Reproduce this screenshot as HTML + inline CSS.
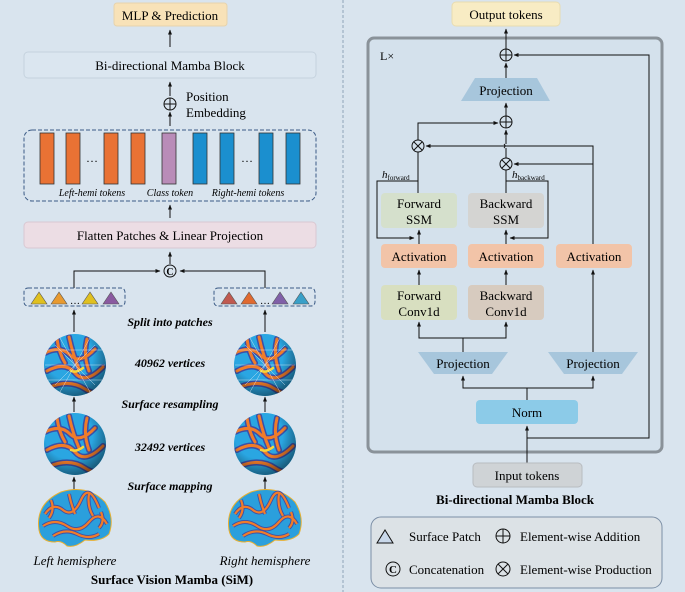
<!DOCTYPE html>
<html><head><meta charset="utf-8"><style>
html,body{margin:0;padding:0;background:#d9e4ee}
svg{display:block;font-family:"Liberation Serif",serif}
</style></head><body>
<svg width="685" height="592" viewBox="0 0 685 592" xmlns="http://www.w3.org/2000/svg">
<defs>
<marker id="a" viewBox="0 0 10 10" refX="9" refY="5" markerWidth="5" markerHeight="5" orient="auto"><path d="M0,1 L10,5 L0,9 Z" fill="#111"/></marker>
<radialGradient id="shade" cx="0.4" cy="0.35" r="0.7"><stop offset="0.55" stop-color="#000" stop-opacity="0"/><stop offset="1" stop-color="#000" stop-opacity="0.5"/></radialGradient>
<clipPath id="cs"><circle cx="0" cy="0" r="31"/></clipPath>
<g id="sph">
 <g clip-path="url(#cs)">
  <rect x="-32" y="-32" width="64" height="64" fill="#2aa6e2"/>
  <g fill="none" stroke-linecap="round">
   <path d="M-30,-12 Q-15,-20 -5,-10 T20,-16 M-28,6 Q-10,-4 0,8 T28,2 M-25,22 Q-5,14 10,24 T30,18 M-6,-28 Q-2,-10 4,4 M12,-26 Q8,-10 14,6 M-18,-26 Q-16,-12 -10,-2" stroke="#3b4fa8" stroke-width="6"/>
   <path d="M-30,-12 Q-15,-20 -5,-10 T20,-16 M-28,6 Q-10,-4 0,8 T28,2 M-25,22 Q-5,14 10,24 T30,18 M-6,-28 Q-2,-10 4,4 M12,-26 Q8,-10 14,6 M-18,-26 Q-16,-12 -10,-2" stroke="#f07c2a" stroke-width="3"/>
   <path d="M-4,6 Q2,8 8,3" stroke="#f6d53a" stroke-width="2.5"/>
  </g>
  <circle r="31" fill="url(#shade)"/>
 </g>
</g>
<g id="brain">
 <path d="M-36,12 Q-40,-14 -14,-26 Q12,-34 30,-16 Q40,0 34,16 Q26,24 10,22 Q0,30 -8,28 Q-14,22 -20,24 Q-34,24 -36,12 Z" fill="#2b9fdc" stroke="#e8b030" stroke-width="1"/>
 <g fill="none" stroke="#3b4fa8" stroke-width="4">
  <path d="M-30,-4 Q-22,-16 -12,-8 T6,-18 T24,-10 M-32,8 Q-20,0 -8,8 T14,4 T32,6 M-22,18 Q-10,10 2,16 T24,16 M-6,-24 Q-4,-14 0,-4 M14,-24 Q12,-12 18,-2 M-24,-18 Q-20,-8 -26,0 M26,-6 Q30,4 24,10"/>
 </g>
 <g fill="none" stroke="#f07c2a" stroke-width="2.2">
  <path d="M-30,-4 Q-22,-16 -12,-8 T6,-18 T24,-10 M-32,8 Q-20,0 -8,8 T14,4 T32,6 M-22,18 Q-10,10 2,16 T24,16 M-6,-24 Q-4,-14 0,-4 M14,-24 Q12,-12 18,-2 M-24,-18 Q-20,-8 -26,0 M26,-6 Q30,4 24,10"/>
 </g>
</g>
</defs>

<line x1="343" y1="0" x2="343" y2="592" stroke="#8ea3b8" stroke-width="1" stroke-dasharray="3,2"/>

<!-- LEFT -->
<rect x="114" y="3" width="113" height="23" rx="3" fill="#f8e2b8" stroke="#e6d3ad"/>
<text x="170" y="20" text-anchor="middle" font-size="13">MLP &amp; Prediction</text>
<line x1="170" y1="47" x2="170" y2="30" stroke="#111" marker-end="url(#a)"/>
<rect x="24" y="52" width="292" height="26" rx="4" fill="#dbe6f0" stroke="#c5d2de"/>
<text x="170" y="70" text-anchor="middle" font-size="13">Bi-directional Mamba Block</text>
<line x1="170" y1="96" x2="170" y2="82" stroke="#111" marker-end="url(#a)"/>
<circle cx="170" cy="104" r="6" fill="none" stroke="#111"/><path d="M164,104H176M170,98V110" stroke="#111"/>
<line x1="170" y1="126" x2="170" y2="112" stroke="#111" marker-end="url(#a)"/>
<text x="186" y="101" font-size="13">Position</text>
<text x="186" y="117" font-size="13">Embedding</text>
<rect x="24" y="130" width="292" height="71" rx="8" fill="none" stroke="#3a5a85" stroke-dasharray="4,2"/>
<g stroke="#333" stroke-width="0.8">
<rect x="40" y="133" width="14" height="51" fill="#e97234"/>
<rect x="66" y="133" width="14" height="51" fill="#e97234"/>
<rect x="104" y="133" width="14" height="51" fill="#e97234"/>
<rect x="131" y="133" width="14" height="51" fill="#e97234"/>
<rect x="162" y="133" width="14" height="51" fill="#b98cb8"/>
<rect x="193" y="133" width="14" height="51" fill="#1b8fcf"/>
<rect x="220" y="133" width="14" height="51" fill="#1b8fcf"/>
<rect x="259" y="133" width="14" height="51" fill="#1b8fcf"/>
<rect x="286" y="133" width="14" height="51" fill="#1b8fcf"/>
</g>
<text x="92" y="162" text-anchor="middle" font-size="12">…</text>
<text x="247" y="162" text-anchor="middle" font-size="12">…</text>
<g font-size="10" font-style="italic" text-anchor="middle">
<text x="92" y="196">Left-hemi tokens</text>
<text x="170" y="196">Class token</text>
<text x="248" y="196">Right-hemi tokens</text>
</g>
<line x1="170" y1="218" x2="170" y2="205" stroke="#111" marker-end="url(#a)"/>
<rect x="24" y="222" width="292" height="26" rx="4" fill="#ecdde4" stroke="#d9c8d2"/>
<text x="170" y="240" text-anchor="middle" font-size="13">Flatten Patches &amp; Linear Projection</text>
<line x1="170" y1="264" x2="170" y2="252" stroke="#111" marker-end="url(#a)"/>
<circle cx="170" cy="271" r="6" fill="none" stroke="#111"/><text x="170" y="275" text-anchor="middle" font-size="10" font-weight="bold">C</text>
<path d="M74,288V271H160" fill="none" stroke="#111" marker-end="url(#a)"/>
<path d="M265,288V271H180" fill="none" stroke="#111" marker-end="url(#a)"/>
<rect x="24" y="288" width="101" height="18" rx="4" fill="none" stroke="#3a5a85" stroke-dasharray="4,2"/>
<rect x="214" y="288" width="101" height="18" rx="4" fill="none" stroke="#3a5a85" stroke-dasharray="4,2"/>
<g stroke="#555" stroke-width="0.6">
<path d="M31,304L39,292L47,304Z" fill="#e0c020"/>
<path d="M51,304L59,292L67,304Z" fill="#e89a30"/>
<path d="M82,304L90,292L98,304Z" fill="#e0c020"/>
<path d="M103,304L111,292L119,304Z" fill="#8a5aa0"/>
<path d="M221,304L229,292L237,304Z" fill="#c05a50"/>
<path d="M241,304L249,292L257,304Z" fill="#e06a30"/>
<path d="M272,304L280,292L288,304Z" fill="#8060a8"/>
<path d="M293,304L301,292L309,304Z" fill="#3aa0c8"/>
</g>
<text x="75" y="304" text-anchor="middle" font-size="10">…</text>
<text x="265" y="304" text-anchor="middle" font-size="10">…</text>
<g font-size="12" font-style="italic" font-weight="bold" text-anchor="middle">
<text x="170" y="326">Split into patches</text>
<text x="170" y="367">40962 vertices</text>
<text x="170" y="408">Surface resampling</text>
<text x="170" y="451">32492 vertices</text>
<text x="170" y="490">Surface mapping</text>
</g>
<g stroke="#111">
<line x1="74" y1="332" x2="74" y2="310" marker-end="url(#a)"/>
<line x1="265" y1="332" x2="265" y2="310" marker-end="url(#a)"/>
<line x1="74" y1="412" x2="74" y2="397" marker-end="url(#a)"/>
<line x1="265" y1="412" x2="265" y2="397" marker-end="url(#a)"/>
<line x1="74" y1="490" x2="74" y2="477" marker-end="url(#a)"/>
<line x1="265" y1="490" x2="265" y2="477" marker-end="url(#a)"/>
</g>
<use href="#sph" x="75" y="365"/>
<use href="#sph" x="265" y="365"/>
<g stroke="#e8f0f8" stroke-width="0.5" fill="none" opacity="0.8">
<path d="M48,350L102,350M45,365L105,365M48,380L102,380M60,338L90,392M90,338L60,392M55,345L95,385M95,345L55,385"/>
<path d="M238,350L292,350M235,365L295,365M238,380L292,380M250,338L280,392M280,338L250,392M245,345L285,385M285,345L245,385"/>
</g>
<use href="#sph" x="75" y="444"/>
<use href="#sph" x="265" y="444"/>
<use href="#brain" x="75" y="518"/>
<use href="#brain" x="265" y="518"/>
<g font-size="13" font-style="italic" text-anchor="middle">
<text x="75" y="565">Left hemisphere</text>
<text x="265" y="565">Right hemisphere</text>
</g>
<text x="172" y="584" text-anchor="middle" font-size="13" font-weight="bold">Surface Vision Mamba (SiM)</text>

<!-- RIGHT -->
<rect x="452" y="2" width="108" height="24" rx="4" fill="#f8ecc4" stroke="#e8dcb0"/>
<text x="506" y="19" text-anchor="middle" font-size="13">Output tokens</text>
<rect x="368" y="38" width="294" height="414" rx="6" fill="#d4e1ec" stroke="#8a9299" stroke-width="3"/>
<text x="380" y="60" font-size="12">L×</text>
<line x1="506" y1="49" x2="506" y2="29" stroke="#111" marker-end="url(#a)"/>
<circle cx="506" cy="55" r="6" fill="none" stroke="#111"/><path d="M500,55H512M506,49V61" stroke="#111"/>
<line x1="506" y1="78" x2="506" y2="63" stroke="#111" marker-end="url(#a)"/>
<path d="M475,78H537L550,101H461Z" fill="#a7c6dc"/>
<text x="506" y="95" text-anchor="middle" font-size="13">Projection</text>
<line x1="506" y1="116" x2="506" y2="103" stroke="#111" marker-end="url(#a)"/>
<circle cx="506" cy="122" r="6" fill="none" stroke="#111"/><path d="M500,122H512M506,116V128" stroke="#111"/>
<path d="M418,140V123H498" fill="none" stroke="#111" marker-end="url(#a)"/>
<path d="M593,244V146H426" fill="none" stroke="#111" marker-end="url(#a)"/>
<path d="M593,164H514" fill="none" stroke="#111" marker-end="url(#a)"/>
<path d="M506,158V148" fill="none" stroke="#111"/>
<path d="M504,144 Q506,146 504,148" fill="none" stroke="#111"/>
<line x1="506" y1="144" x2="506" y2="130" stroke="#111" marker-end="url(#a)"/>
<g fill="none" stroke="#111">
<circle cx="418" cy="146" r="6"/><path d="M414,142L422,150M422,142L414,150"/>
<circle cx="506" cy="164" r="6"/><path d="M502,160L510,168M510,160L502,168"/>
<line x1="418" y1="193" x2="418" y2="152"/>
<line x1="506" y1="193" x2="506" y2="170"/>
<path d="M418,181H377V238H414" marker-end="url(#a)"/>
<path d="M506,181H548V238H510" marker-end="url(#a)"/>
</g>
<text x="382" y="178" font-size="11" font-style="italic">h<tspan font-size="7" font-style="normal" dy="2">forward</tspan></text>
<text x="512" y="178" font-size="11" font-style="italic">h<tspan font-size="7" font-style="normal" dy="2">backward</tspan></text>
<rect x="381" y="193" width="76" height="35" rx="4" fill="#d5e0cc"/>
<rect x="468" y="193" width="76" height="35" rx="4" fill="#d4d4d2"/>
<g font-size="13" text-anchor="middle">
<text x="419" y="208">Forward</text><text x="419" y="224">SSM</text>
<text x="506" y="208">Backward</text><text x="506" y="224">SSM</text>
</g>
<g stroke="#111">
<line x1="419" y1="244" x2="419" y2="230" marker-end="url(#a)"/>
<line x1="506" y1="244" x2="506" y2="230" marker-end="url(#a)"/>
<line x1="419" y1="285" x2="419" y2="270" marker-end="url(#a)"/>
<line x1="506" y1="285" x2="506" y2="270" marker-end="url(#a)"/>
<line x1="593" y1="352" x2="593" y2="270" marker-end="url(#a)"/>
</g>
<rect x="381" y="244" width="76" height="24" rx="4" fill="#f2c4a8"/>
<rect x="468" y="244" width="76" height="24" rx="4" fill="#f2c4a8"/>
<rect x="556" y="244" width="76" height="24" rx="4" fill="#f2c4a8"/>
<g font-size="13" text-anchor="middle">
<text x="419" y="261">Activation</text><text x="506" y="261">Activation</text><text x="594" y="261">Activation</text>
</g>
<rect x="381" y="285" width="76" height="35" rx="4" fill="#d8dfc0"/>
<rect x="468" y="285" width="76" height="35" rx="4" fill="#d7cbbf"/>
<g font-size="13" text-anchor="middle">
<text x="419" y="300">Forward</text><text x="419" y="316">Conv1d</text>
<text x="506" y="300">Backward</text><text x="506" y="316">Conv1d</text>
</g>
<path d="M463,352V338" stroke="#111"/>
<path d="M463,338H419V322" fill="none" stroke="#111" marker-end="url(#a)"/>
<path d="M463,338H506V322" fill="none" stroke="#111" marker-end="url(#a)"/>
<path d="M418,352H508L492,374H434Z" fill="#a7c6dc"/>
<path d="M548,352H638L622,374H564Z" fill="#a7c6dc"/>
<text x="463" y="368" text-anchor="middle" font-size="13">Projection</text>
<text x="593" y="368" text-anchor="middle" font-size="13">Projection</text>
<path d="M527,400V388" stroke="#111"/>
<path d="M527,388H463V376" fill="none" stroke="#111" marker-end="url(#a)"/>
<path d="M527,388H593V376" fill="none" stroke="#111" marker-end="url(#a)"/>
<rect x="476" y="400" width="102" height="24" rx="4" fill="#8ccbe8"/>
<text x="527" y="417" text-anchor="middle" font-size="13">Norm</text>
<line x1="527" y1="463" x2="527" y2="426" stroke="#111" marker-end="url(#a)"/>
<path d="M527,438H649V55H514" fill="none" stroke="#111" marker-end="url(#a)"/>
<rect x="473" y="463" width="109" height="24" rx="4" fill="#cfd3d6" stroke="#b8bcc0"/>
<text x="527" y="480" text-anchor="middle" font-size="13">Input tokens</text>
<text x="515" y="504" text-anchor="middle" font-size="13" font-weight="bold">Bi-directional Mamba Block</text>
<rect x="371" y="517" width="291" height="71" rx="10" fill="#dce2e6" stroke="#7c8fa6"/>
<path d="M377,543L385,530L393,543Z" fill="#c9d8ea" stroke="#111"/>
<text x="409" y="541" font-size="13">Surface Patch</text>
<circle cx="503" cy="536" r="7" fill="none" stroke="#111"/><path d="M496,536H510M503,529V543" stroke="#111"/>
<text x="520" y="541" font-size="13">Element-wise Addition</text>
<circle cx="393" cy="569" r="7" fill="none" stroke="#111"/><text x="393" y="573" text-anchor="middle" font-size="11" font-weight="bold">C</text>
<text x="409" y="574" font-size="13">Concatenation</text>
<circle cx="503" cy="569" r="7" fill="none" stroke="#111"/><path d="M498,564L508,574M508,564L498,574" stroke="#111"/>
<text x="520" y="574" font-size="13">Element-wise Production</text>
</svg>
</body></html>
